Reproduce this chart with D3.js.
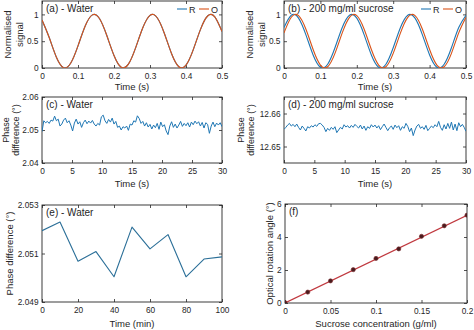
<!DOCTYPE html>
<html><head><meta charset="utf-8">
<script src="https://cdn.jsdelivr.net/npm/d3@7"></script>
<style>
html,body{margin:0;padding:0;background:#fff;}
svg{display:block;font-family:"Liberation Sans",Arial,Helvetica,sans-serif;}
</style></head>
<body>
<script>
// ---------- DATA ----------
const sigTime = [0,0.02,0.04,0.06,0.08,0.10,0.12,0.14,0.16,0.18,0.20,0.22,0.24,0.26,0.28,0.30,0.32,0.34,0.36,0.38,0.40,0.42,0.44,0.46,0.48,0.50];
const waterR = [0.895,0.568,0.201,0.006,0.093,0.413,0.783,0.991,0.918,0.606,0.234,0.014,0.072,0.376,0.750,0.982,0.938,0.644,0.267,0.024,0.053,0.338,0.716,0.970,0.955,0.680];
const waterO = [0.895,0.568,0.201,0.006,0.093,0.413,0.783,0.991,0.918,0.606,0.234,0.014,0.072,0.376,0.750,0.982,0.938,0.644,0.267,0.024,0.053,0.338,0.716,0.970,0.955,0.680];
const sucroseR = [0.756,0.985,0.930,0.623,0.244,0.015,0.070,0.377,0.756,0.985,0.930,0.623,0.244,0.015,0.070,0.377,0.756,0.985,0.930,0.623,0.244,0.015,0.070,0.377,0.756,0.985];
const sucroseO = [0.655,0.946,0.976,0.727,0.345,0.055,0.024,0.273,0.655,0.946,0.976,0.727,0.345,0.055,0.024,0.273,0.655,0.946,0.976,0.727,0.345,0.055,0.024,0.273,0.655,0.946];

const phaseTime = [0,0.3,0.6,0.9,1.2,1.5,1.8,2.1,2.4,2.7,3.0,3.3,3.6,3.9,4.2,4.5,4.8,5.1,5.4,5.7,6.0,6.3,6.6,6.9,7.2,7.5,7.8,8.1,8.4,8.7,9.0,9.3,9.6,9.9,10.2,10.5,10.8,11.1,11.4,11.7,12.0,12.3,12.6,12.9,13.2,13.5,13.8,14.1,14.4,14.7,15.0,15.3,15.6,15.9,16.2,16.5,16.8,17.1,17.4,17.7,18.0,18.3,18.6,18.9,19.2,19.5,19.8,20.1,20.4,20.7,21.0,21.3,21.6,21.9,22.2,22.5,22.8,23.1,23.4,23.7,24.0,24.3,24.6,24.9,25.2,25.5,25.8,26.1,26.4,26.7,27.0,27.3,27.6,27.9,28.2,28.5,28.8,29.1,29.4,29.7,30.0];
const phaseWater = [2.0495,2.0528,2.0522,2.0526,2.0520,2.0530,2.0527,2.0542,2.0528,2.0533,2.0512,2.0518,2.0530,2.0536,2.0522,2.0528,2.0515,2.0497,2.0521,2.0533,2.0518,2.0525,2.0508,2.0522,2.0530,2.0519,2.0527,2.0521,2.0529,2.0518,2.0512,2.0520,2.0515,2.0540,2.0545,2.0528,2.0520,2.0532,2.0524,2.0536,2.0518,2.0526,2.0508,2.0512,2.0500,2.0510,2.0506,2.0512,2.0499,2.0518,2.0515,2.0528,2.0524,2.0543,2.0535,2.0520,2.0526,2.0512,2.0522,2.0509,2.0517,2.0503,2.0515,2.0507,2.0520,2.0502,2.0524,2.0510,2.0516,2.0497,2.0486,2.0512,2.0525,2.0508,2.0518,2.0506,2.0515,2.0526,2.0511,2.0520,2.0513,2.0522,2.0509,2.0524,2.0516,2.0527,2.0519,2.0525,2.0512,2.0523,2.0506,2.0522,2.0517,2.0490,2.0512,2.0524,2.0510,2.0521,2.0515,2.0522,2.0510];
const phaseSucrose = [12.6552,12.6558,12.6565,12.6570,12.6562,12.6567,12.6560,12.6568,12.6558,12.6550,12.6562,12.6555,12.6547,12.6560,12.6556,12.6563,12.6559,12.6566,12.6561,12.6569,12.6570,12.6565,12.6558,12.6545,12.6555,12.6549,12.6558,12.6552,12.6560,12.6542,12.6550,12.6558,12.6553,12.6566,12.6559,12.6563,12.6556,12.6564,12.6558,12.6567,12.6561,12.6556,12.6565,12.6553,12.6562,12.6549,12.6560,12.6555,12.6566,12.6559,12.6565,12.6556,12.6563,12.6551,12.6560,12.6568,12.6558,12.6548,12.6557,12.6562,12.6552,12.6565,12.6557,12.6563,12.6549,12.6560,12.6555,12.6570,12.6561,12.6545,12.6556,12.6533,12.6550,12.6562,12.6567,12.6555,12.6560,12.6552,12.6564,12.6548,12.6555,12.6562,12.6557,12.6566,12.6560,12.6576,12.6558,12.6549,12.6566,12.6553,12.6570,12.6555,12.6574,12.6550,12.6568,12.6548,12.6572,12.6560,12.6567,12.6558,12.6546];

const longTime = [0,10,20,30,40,50,60,70,80,90,100];
const longPhase = [2.05194,2.05230,2.05068,2.05108,2.05004,2.05209,2.05119,2.05178,2.05004,2.05077,2.05086];

const concentration = [0,0.025,0.05,0.075,0.1,0.125,0.15,0.175,0.2];
const rotation = [0.02,0.66,1.34,2.02,2.70,3.28,4.04,4.68,5.32];
const fitConc = [0,0.2];
const fitRot = [0,5.32];

const sigTicksX = [0,0.1,0.2,0.3,0.4,0.5];
const sigTicksY = [0,0.5,1];
const phaseTicksX = [0,5,10,15,20,25,30];
const waterTicksY = [2.04,2.05,2.06];
const sucroseTicksY = [12.65,12.66];
const longTicksX = [0,20,40,60,80,100];
const longTicksY = [2.049,2.051,2.053];
const concTicksX = [0,0.05,0.1,0.15,0.2];
const rotTicksY = [0,2,4,6];

// ---------- DRAWING ----------
const W = 474, H = 330;
const svg = d3.select("body").append("svg").attr("width", W).attr("height", H);
const TXT = "#262626", BLUE = "#1f77b4", ORANGE = "#d95319";

function panel(o) {
  const x = d3.scaleLinear().domain(o.xd).range([o.x0, o.x1]);
  const y = d3.scaleLinear().domain(o.yd).range([o.y1, o.y0]);
  const g = svg.append("g");
  const fmtX = o.fx || (d => String(d));
  const fmtY = o.fy || (d => String(d));
  const ax = (gen, tr) => {
    const a = g.append("g").attr("transform", tr).call(gen);
    a.select(".domain").remove();
    a.selectAll("line").attr("stroke", TXT).attr("stroke-width", 0.8);
    a.selectAll("text").attr("fill", TXT).attr("font-size", 8.3).attr("font-family", "Liberation Sans, Arial, sans-serif");
    return a;
  };
  ax(d3.axisBottom(x).tickValues(o.xt).tickFormat(fmtX).tickSize(-3).tickPadding(5), `translate(0,${o.y1})`);
  ax(d3.axisTop(x).tickValues(o.xt).tickFormat("").tickSize(-3), `translate(0,${o.y0})`);
  ax(d3.axisLeft(y).tickValues(o.yt).tickFormat(fmtY).tickSize(-3).tickPadding(3.5), `translate(${o.x0},0)`);
  ax(d3.axisRight(y).tickValues(o.yt).tickFormat("").tickSize(-3), `translate(${o.x1},0)`);
  g.append("rect").attr("x", o.x0).attr("y", o.y0).attr("width", o.x1 - o.x0).attr("height", o.y1 - o.y0)
    .attr("fill", "none").attr("stroke", TXT).attr("stroke-width", 0.9);
  const clipId = "clip" + Math.random().toString(36).slice(2);
  g.append("clipPath").attr("id", clipId).append("rect")
    .attr("x", o.x0).attr("y", o.y0).attr("width", o.x1 - o.x0).attr("height", o.y1 - o.y0);
  const plot = g.append("g").attr("clip-path", `url(#${clipId})`);
  (o.series || []).forEach(s => {
    const line = d3.line().x((d, i) => x(s.xs[i])).y(d => y(d)).curve(s.curve || d3.curveLinear);
    plot.append("path").datum(s.ys).attr("d", line).attr("fill", "none")
      .attr("stroke", s.color).attr("stroke-width", s.w || 1.1).attr("stroke-linejoin", "round");
  });
  if (o.points) {
    plot.selectAll("circle.pt").data(o.points.ys).join("circle")
      .attr("cx", (d, i) => x(o.points.xs[i])).attr("cy", d => y(d)).attr("r", 2.1)
      .attr("fill", "#4a1c1e").attr("stroke", "#7a2a2e").attr("stroke-width", 0.6);
  }
  // labels
  g.append("text").attr("x", o.x0 + 4).attr("y", o.y0 + 11).attr("font-size", 10).attr("fill", TXT).text(o.title);
  if (o.xlabel) g.append("text").attr("x", (o.x0 + o.x1) / 2).attr("y", o.xly).attr("text-anchor", "middle")
    .attr("font-size", 9.5).attr("fill", TXT).text(o.xlabel);
  const cy = (o.y0 + o.y1) / 2;
  o.ylabel.forEach((t, i) => {
    g.append("text").attr("transform", `translate(${o.ylx[i]},${cy}) rotate(-90)`).attr("text-anchor", "middle")
      .attr("font-size", o.ylfs || 9.5).attr("fill", TXT).text(t);
  });
  if (o.legend) {
    const lx = o.x1 - 45, ly = o.y0 + 8;
    [[BLUE, "R"], [ORANGE, "O"]].forEach((e, i) => {
      const bx = lx + i * 22;
      g.append("line").attr("x1", bx).attr("x2", bx + 10).attr("y1", ly).attr("y2", ly).attr("stroke", e[0]).attr("stroke-width", 1.1);
      g.append("text").attr("x", bx + 12).attr("y", ly + 3.5).attr("font-size", 9).attr("fill", TXT).text(e[1]);
    });
  }
}

panel({x0: 42, x1: 222, y0: 1, y1: 68, xd: [0, 0.5], yd: [0, 1.25], xt: sigTicksX, yt: sigTicksY,
  title: "(a) - Water", xlabel: "Time (s)", xly: 90, ylabel: ["Normalised", "signal"], ylx: [11, 23], legend: true,
  series: [{xs: sigTime, ys: waterR, color: BLUE, curve: d3.curveNatural}, {xs: sigTime, ys: waterO, color: ORANGE, curve: d3.curveNatural}]});
panel({x0: 284, x1: 466, y0: 1, y1: 68, xd: [0, 0.5], yd: [0, 1.25], xt: sigTicksX, yt: sigTicksY,
  title: "(b) - 200 mg/ml sucrose", xlabel: "Time (s)", xly: 90, ylabel: ["Normalised", "signal"], ylx: [253, 265], legend: true,
  series: [{xs: sigTime, ys: sucroseR, color: BLUE, curve: d3.curveNatural}, {xs: sigTime, ys: sucroseO, color: ORANGE, curve: d3.curveNatural}]});
panel({x0: 42, x1: 222, y0: 97, y1: 163, xd: [0, 30], yd: [2.04, 2.06], xt: phaseTicksX, yt: waterTicksY,
  fy: d3.format(".2f"), title: "(c) - Water", xlabel: "Time (s)", xly: 187, ylabel: ["Phase", "difference (°)"], ylx: [8.5, 18.5], ylfs: 9,
  series: [{xs: phaseTime, ys: phaseWater, color: BLUE, w: 1}]});
panel({x0: 284, x1: 466, y0: 97, y1: 163, xd: [0, 30], yd: [12.645, 12.665], xt: phaseTicksX, yt: sucroseTicksY,
  fy: d3.format(".2f"), title: "(d) - 200 mg/ml sucrose", xlabel: "Time (s)", xly: 187, ylabel: ["Phase", "difference (°)"], ylx: [244, 254], ylfs: 9,
  series: [{xs: phaseTime, ys: phaseSucrose, color: BLUE, w: 1}]});
panel({x0: 42, x1: 222, y0: 205, y1: 302, xd: [0, 100], yd: [2.049, 2.053], xt: longTicksX, yt: longTicksY,
  fy: d3.format(".3f"), title: "(e) - Water", xlabel: "Time (min)", xly: 327, ylabel: ["Phase difference (°)"], ylx: [13],
  series: [{xs: longTime, ys: longPhase, color: "#2b6f98", w: 1.1}]});
panel({x0: 285, x1: 467, y0: 204, y1: 303, xd: [0, 0.2], yd: [0, 6], xt: concTicksX, yt: rotTicksY,
  title: "(f)", xlabel: "Sucrose concentration (g/ml)", xly: 327, ylabel: ["Optical rotation angle (°)"], ylx: [273],
  series: [{xs: fitConc, ys: fitRot, color: "#c0393f", w: 1.2}], points: {xs: concentration, ys: rotation}});
</script>
</body></html>
